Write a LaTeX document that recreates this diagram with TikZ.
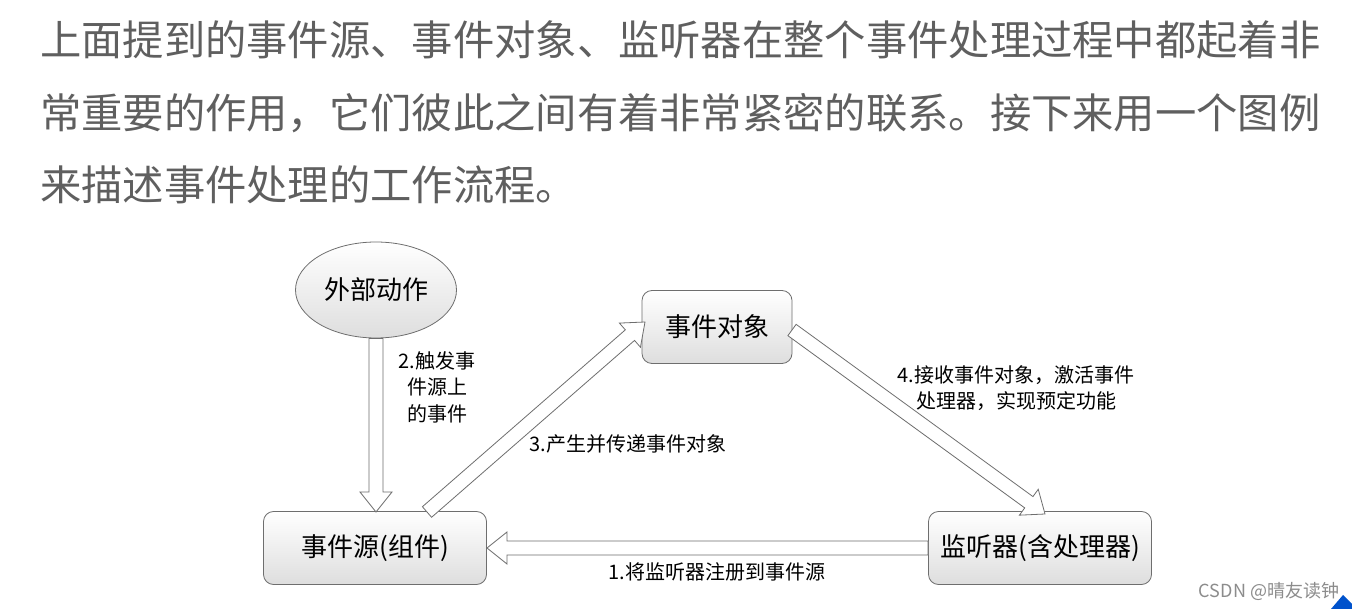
\documentclass[tikz,border=0pt]{standalone}
\usepackage{fontspec}
\setmainfont{Noto Sans CJK SC}
\usetikzlibrary{calc,shapes.geometric}
\definecolor{headc}{RGB}{95,95,95}
\definecolor{linec}{RGB}{110,110,110}
\tikzset{
  box/.style={draw=linec,rounded corners=10pt,top color=white,bottom color=black!13,line width=0.8pt,font=\fontsize{26}{28}\selectfont,inner sep=0pt},
  fat/.style={draw=linec,fill=white,line width=0.8pt,line join=miter},
  lbl/.style={font=\fontsize{20}{26.5}\selectfont,align=center,inner sep=0pt},
  head/.style={anchor=west,text=headc,font=\fontsize{41.3}{41}\selectfont,inner sep=0pt}
}
\newcommand\fatarr[2]{\draw[fat] let \p1=($(#2)!20pt!(#1)$) in ($(#1)!7pt!-90:(#2)$) -- ($(\p1)!7pt!-90:(#2)$) -- ($(\p1)!16pt!-90:(#2)$) -- (#2) -- ($(\p1)!16pt!90:(#2)$) -- ($(\p1)!7pt!90:(#2)$) -- ($(#1)!7pt!90:(#2)$) -- cycle;}
\begin{document}
\begin{tikzpicture}[x=1pt,y=-1pt]
\useasboundingbox[fill=white] (0,0) rectangle (1352,609);
\node[head] (h1) at (40,40) {上面提到的事件源、事件对象、监听器在整个事件处理过程中都起着非};
\node[head] (h2) at (40,113) {常重要的作用，它们彼此之间有着非常紧密的联系。接下来用一个图例};
\node[head] (h3) at (40,185) {来描述事件处理的工作流程。};
\node[ellipse,draw=linec,line width=0.8pt,top color=white,bottom color=black!13,minimum width=161pt,minimum height=96pt,inner sep=0pt,font=\fontsize{26}{28}\selectfont] (ext) at (376,290) {外部动作};
\node[box,minimum width=150pt,minimum height=73pt] (obj) at (717,327) {事件对象};
\node[box,minimum width=223pt,minimum height=73pt] (src) at (375,548) {事件源(组件)};
\node[box,minimum width=223pt,minimum height=73pt] (lis) at (1040,548) {监听器(含处理器)};
\coordinate (a2s) at (376,338.5);
\coordinate (a2e) at (376,512);
\coordinate (a3s) at (427,512);
\coordinate (a3e) at (645,322);
\coordinate (a4s) at (792,330);
\coordinate (a4e) at (1045,514);
\coordinate (a1s) at (928,548);
\coordinate (a1e) at (487,548);
\fatarr{a2s}{a2e}
\fatarr{a3s}{a3e}
\fatarr{a4s}{a4e}
\fatarr{a1s}{a1e}
\node[lbl] (l2) at (437,387) {2.触发事\\件源上\\的事件};
\node[lbl] (l3) at (628,444) {3.产生并传递事件对象};
\node[lbl] (l4) at (1016,388) {4.接收事件对象，激活事件\\处理器，实现预定功能};
\node[lbl] (l1) at (717,572) {1.将监听器注册到事件源};
\node[font=\fontsize{18}{18}\selectfont,text=black!45,inner sep=0pt] (wm) at (1269,591) {CSDN @晴友读钟};
\fill[blue!60!cyan!80!black] (1331,609) -- (1343,595) -- (1352,604) -- (1352,609) -- cycle;
\end{tikzpicture}
\end{document}
